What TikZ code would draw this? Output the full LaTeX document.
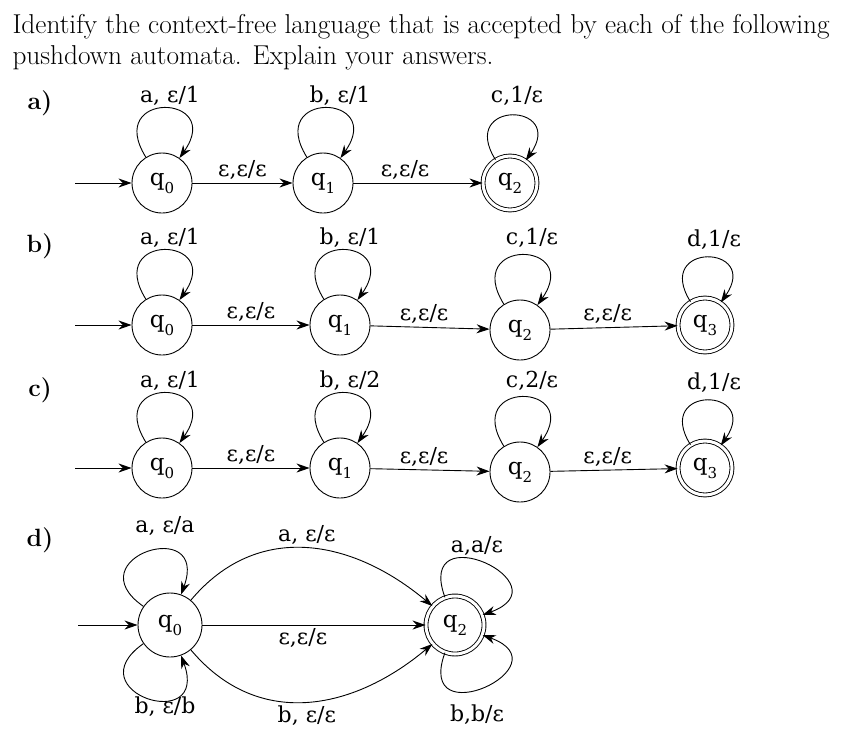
\documentclass[tikz,border=0pt]{standalone}
\usepackage{fontspec}
\newfontfamily\lab{DejaVu Serif}
\usetikzlibrary{arrows.meta}
\newcommand{\qs}[1]{q\raisebox{-0.35em}{\fontsize{15}{15}\selectfont #1}}
\begin{document}
\begin{tikzpicture}[x=1pt,y=-1pt,
  st/.style={circle,draw,line width=0.9pt,minimum size=60pt,inner sep=0pt,font=\lab\fontsize{23}{23}\selectfont},
  acc/.style={st,double,double distance=3pt,minimum size=54pt},
  tr/.style={-{Stealth[length=13pt,width=9pt]},line width=0.9pt},
  lb/.style={font=\lab\fontsize{22}{22}\selectfont},
  lp/.style={tr,out=122,in=55,looseness=6},
  part/.style={font=\bfseries\fontsize{25}{25}\selectfont}]
\useasboundingbox (0,0) rectangle (861,731);
\node[anchor=base west,font=\fontsize{27.3}{30}\selectfont] (t1) at (9,33) {Identify the context-free language that is accepted by each of the following};
\node[anchor=base west,font=\fontsize{27.3}{30}\selectfont] (t2) at (9,64) {pushdown automata. Explain your answers.};
% a
\node[part] (pa) at (40,103) {a)};
\node[st] (a0) at (162,183) {\qs0};
\node[st] (a1) at (323,183) {\qs1};
\node[acc] (a2) at (510,183) {\qs2};
\coordinate (ai) at (75,183);
\draw[tr] (ai) -- (a0);
\draw[tr] (a0) -- node[lb,above,pos=0.5] (la1) {ε,ε/ε} (a1);
\draw[tr] (a1) -- node[lb,above,pos=0.4] (la2) {ε,ε/ε} (a2);
\draw[lp] (a0) to (a0); \node[lb] (la3) at (170,96) {a, ε/1};
\draw[lp] (a1) to (a1); \node[lb] (la4) at (340,96) {b, ε/1};
\draw[lp] (a2) to (a2); \node[lb] (la5) at (517,96) {c,1/ε};
% b
\node[part] (pb) at (40,246) {b)};
\node[st] (b0) at (162,325) {\qs0};
\node[st] (b1) at (340,325) {\qs1};
\node[st] (b2) at (520,330) {\qs2};
\node[acc] (b3) at (705,325) {\qs3};
\coordinate (bi) at (75,325);
\draw[tr] (bi) -- (b0);
\draw[tr] (b0) -- node[lb,above,pos=0.5] (lb1) {ε,ε/ε} (b1);
\draw[tr] (b1) -- node[lb,above,pos=0.45] (lb2) {ε,ε/ε} (b2);
\draw[tr] (b2) -- node[lb,above,pos=0.45] (lb3) {ε,ε/ε} (b3);
\draw[lp] (b0) to (b0); \node[lb] (lb4) at (170,238) {a, ε/1};
\draw[lp] (b1) to (b1); \node[lb] (lb5) at (350,238) {b, ε/1};
\draw[lp] (b2) to (b2); \node[lb] (lb6) at (532,238) {c,1/ε};
\draw[lp] (b3) to (b3); \node[lb] (lb7) at (714,240) {d,1/ε};
% c
\node[part] (pc) at (40,390) {c)};
\node[st] (c0) at (162,468) {\qs0};
\node[st] (c1) at (340,468) {\qs1};
\node[st] (c2) at (520,472) {\qs2};
\node[acc] (c3) at (705,468) {\qs3};
\coordinate (ci) at (75,468);
\draw[tr] (ci) -- (c0);
\draw[tr] (c0) -- node[lb,above,pos=0.5] (lc1) {ε,ε/ε} (c1);
\draw[tr] (c1) -- node[lb,above,pos=0.45] (lc2) {ε,ε/ε} (c2);
\draw[tr] (c2) -- node[lb,above,pos=0.45] (lc3) {ε,ε/ε} (c3);
\draw[lp] (c0) to (c0); \node[lb] (lc4) at (170,381) {a, ε/1};
\draw[lp] (c1) to (c1); \node[lb] (lc5) at (350,381) {b, ε/2};
\draw[lp] (c2) to (c2); \node[lb] (lc6) at (532,381) {c,2/ε};
\draw[lp] (c3) to (c3); \node[lb] (lc7) at (714,383) {d,1/ε};
% d
\node[part] (pd) at (40,540) {d)};
\node[st,minimum size=64pt] (d0) at (170,625) {\qs0};
\node[acc,minimum size=58pt] (d2) at (455,625) {\qs2};
\coordinate (di) at (78,625);
\draw[tr] (di) -- (d0);
\draw[tr] (d0) -- node[lb,below,pos=0.45] (ld1) {ε,ε/ε} (d2);
\draw[tr] (d0) to[out=50,in=140,looseness=1.1] node[lb,above,pos=0.5] (ld2) {a, ε/ε} (d2);
\draw[tr] (d0) to[out=-50,in=-140,looseness=1.1] node[lb,below,pos=0.5] (ld3) {b, ε/ε} (d2);
\draw[tr] (d0) to[out=145,in=70,looseness=5.5] (d0); \node[lb] (ld4) at (165,526) {a, ε/a};
\draw[tr] (d0) to[out=215,in=-70,looseness=5.5] (d0); \node[lb] (ld5) at (165,707) {b, ε/b};
\draw[tr] (d2) to[out=110,in=20,looseness=5.5] (d2); \node[lb] (ld6) at (477,546) {a,a/ε};
\draw[tr] (d2) to[out=250,in=-20,looseness=5.5] (d2); \node[lb] (ld7) at (477,715) {b,b/ε};
\end{tikzpicture}
\end{document}
